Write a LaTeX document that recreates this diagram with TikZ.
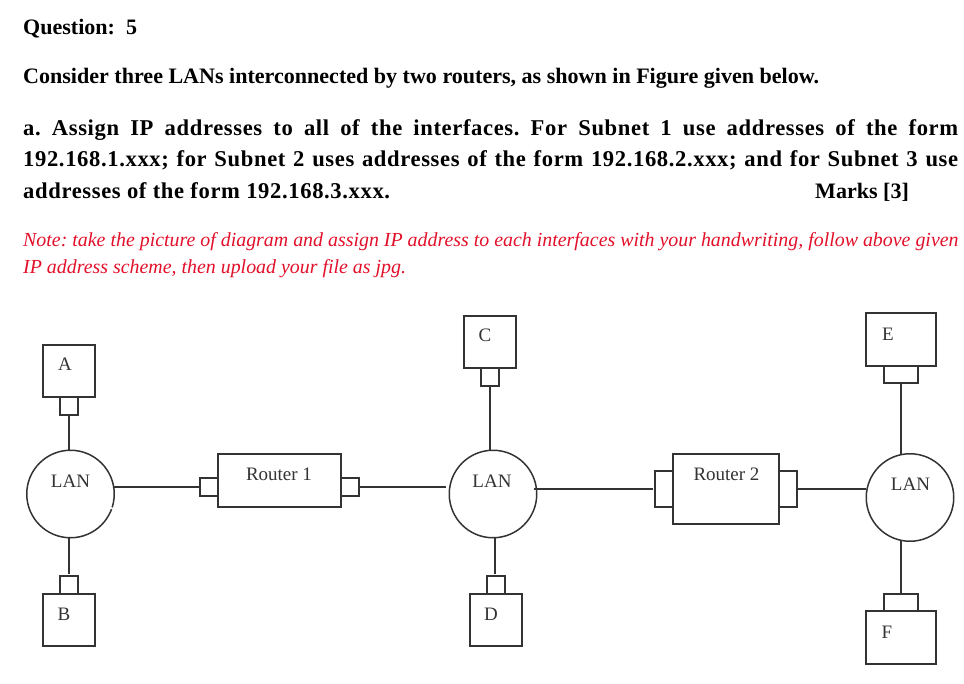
\documentclass[tikz,border=0pt]{standalone}
\usepackage{fontspec}
\setmainfont{Liberation Serif}
\frenchspacing
\definecolor{ink}{HTML}{333333}
\definecolor{labelink}{HTML}{333333}
\definecolor{notered}{HTML}{E2102A}
\tikzset{
  boxshape/.style={draw=ink,line width=1.9pt,rectangle,inner sep=0pt,outer sep=0pt,fill=white},
  lanshape/.style={draw=ink,line width=1.5pt,circle,inner sep=0pt,outer sep=0pt,minimum size=87.5pt},
  wire/.style={draw=ink,line width=1.9pt},
  boxlabel/.style={anchor=base,inner sep=0pt,text=labelink,font=\fontsize{19}{19}\selectfont},
  headtext/.style={anchor=base west,inner sep=0pt,text=black,font=\fontsize{22.05}{22}\selectfont\bfseries},
  widetext/.style={headtext,font=\fontsize{22.6}{22}\selectfont\bfseries\addfontfeature{LetterSpace=2.8}},
  notetext/.style={anchor=base west,inner sep=0pt,text=notered,font=\fontsize{19.9}{20}\selectfont\itshape}
}
\begin{document}
\begin{tikzpicture}[x=1pt,y=-1pt]
\useasboundingbox[fill=white] (0,0) rectangle (964,683);
% text
\node[headtext] (q) at (23,34) {Question:\ \ 5};
\node[headtext] (t1) at (23,83) {Consider three LANs interconnected by two routers, as shown in Figure given below.};
\node[widetext] (t2) at (23,135) {\makebox[935pt][s]{a. Assign IP addresses to all of the interfaces. For Subnet 1 use addresses of the form}};
\node[widetext] (t3) at (23,166) {\makebox[935pt][s]{192.168.1.xxx; for Subnet 2 uses addresses of the form 192.168.2.xxx; and for Subnet 3 use}};
\node[widetext] (t4) at (23,198) {addresses of the form 192.168.3.xxx.};
\node[headtext] (marks) at (815,198) {Marks [3]};
\node[notetext] (n1) at (23,246) {Note: take the picture of diagram and assign IP address to each interfaces with your handwriting, follow above given};
\node[notetext] (n2) at (23,273) {IP address scheme, then upload your file as jpg.};
% LANs
\node[lanshape] (lan1) at (70.5,494) {};
\node[lanshape] (lan2) at (493,494) {};
\node[lanshape] (lan3) at (910,497.5) {};
\draw[white,line width=2.4pt] (lan1.-18) -- (lan1.-20);
% hosts
\node[boxshape,minimum width=52pt,minimum height=52pt] (A) at (69,371) {};
\node[boxshape,minimum width=18pt,minimum height=18pt] (pA) at (69,406) {};
\node[boxshape,minimum width=52pt,minimum height=52pt] (B) at (69,620) {};
\node[boxshape,minimum width=18pt,minimum height=18pt] (pB) at (69,585) {};
\node[boxshape,minimum width=52pt,minimum height=52pt] (C) at (490,342) {};
\node[boxshape,minimum width=18pt,minimum height=18pt] (pC) at (490,377) {};
\node[boxshape,minimum width=52pt,minimum height=52pt] (D) at (496,620) {};
\node[boxshape,minimum width=18pt,minimum height=18pt] (pD) at (496,585) {};
\node[boxshape,minimum width=70pt,minimum height=53pt] (E) at (901,339.5) {};
\node[boxshape,minimum width=34pt,minimum height=17pt] (pE) at (901,374.5) {};
\node[boxshape,minimum width=70pt,minimum height=53pt] (F) at (901,637.5) {};
\node[boxshape,minimum width=34pt,minimum height=17pt] (pF) at (901,602.5) {};
% routers
\node[boxshape,minimum width=123pt,minimum height=53pt] (r1) at (279.5,480.5) {};
\node[boxshape,minimum width=18pt,minimum height=18pt] (r1l) at (209,487) {};
\node[boxshape,minimum width=18pt,minimum height=18pt] (r1r) at (350,487) {};
\node[boxshape,minimum width=106pt,minimum height=70pt] (r2) at (726,489) {};
\node[boxshape,minimum width=18pt,minimum height=36pt] (r2l) at (664,489) {};
\node[boxshape,minimum width=18pt,minimum height=36pt] (r2r) at (788,489) {};
% labels
\node[boxlabel] (lA) at (65,370.7) {A};
\node[boxlabel] (lB) at (64,620) {B};
\node[boxlabel] (lC) at (485,341.7) {C};
\node[boxlabel] (lD) at (491,620) {D};
\node[boxlabel] (lE) at (888,340) {E};
\node[boxlabel] (lF) at (887,638) {F};
\node[boxlabel] (ll1) at (70.5,487.3) {LAN};
\node[boxlabel] (ll2) at (492,487.3) {LAN};
\node[boxlabel] (ll3) at (910.5,490.7) {LAN};
\node[boxlabel] (lr1) at (279,480.7) {Router 1};
\node[boxlabel] (lr2) at (726.5,480.7) {Router 2};
% connectors
\draw[wire] (pA.south) -- (pA.south |- lan1.north);
\draw[wire] (pB.north) ++(0,-2) -- (pB.north |- lan1.south);
\draw[wire] (pC.south) -- (pC.south |- lan2.north);
\draw[wire] (pD.north) ++(-1,-2) -- ++(0,-36);
\draw[wire] (pE.south) -- (pE.south |- lan3.north);
\draw[wire] (pF.north) -- (pF.north |- lan3.south);
\draw[wire] (r1l.west) -- (r1l.west -| lan1.east);
\draw[wire,shorten >=3pt] (r1r.east) -- (r1r.east -| lan2.west);
\draw[wire,shorten <=2.5pt] (r2l.west) -- ([xshift=-3pt]r2l.west -| lan2.east);
\draw[wire] (r2r.east) -- (r2r.east -| lan3.west);
\end{tikzpicture}
\end{document}
